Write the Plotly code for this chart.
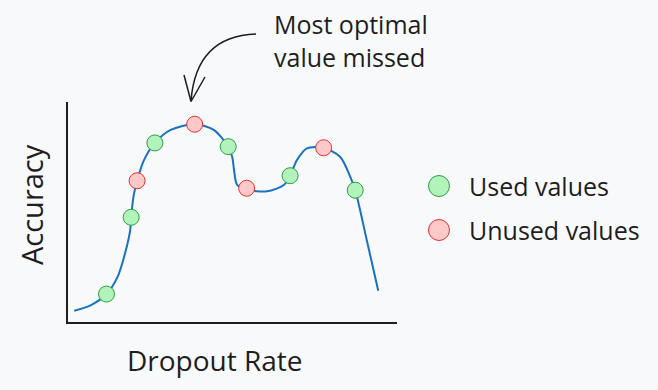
import plotly.graph_objects as go

# ---- data (arbitrary units: dropout rate 0-100, accuracy 0-100) ----
curve_x = [1.9, 7.0, 11.7, 15.1, 17.6, 18.9, 19.2, 19.9, 21.0, 23.1, 26.4, 31.2, 38.5, 44.3,
           48.7, 49.9, 50.6, 51.4, 54.3, 60.5, 65.6, 67.5, 69.6, 72.6, 77.7, 82.7, 85.8, 87.3,
           90.8, 94.3]
curve_y = [5.1, 7.7, 12.7, 20.6, 32.7, 41.8, 47.6, 57.0, 64.2, 73.6, 81.4, 87.3, 89.9, 87.3,
           79.7, 75.1, 67.6, 62.3, 60.2, 59.4, 62.3, 66.5, 73.6, 78.9, 79.2, 75.1, 66.0, 60.0,
           37.3, 14.2]

used_x = [11.7, 19.2, 26.4, 48.7, 67.5, 87.3]
used_y = [12.7, 47.6, 81.4, 79.7, 66.5, 59.9]
unused_x = [21.0, 38.5, 54.3, 77.7]
unused_y = [64.2, 89.9, 60.8, 79.2]

legend_labels = ["Used values", "Unused values"]
x_title = "Dropout Rate"
y_title = "Accuracy"
note_text = "Most optimal<br>value missed"

# ---- layout geometry ----
W, H = 658, 390
L, R, T, B = 68, 261, 102, 68
PW, PH = W - L - R, H - T - B


def px(x):
    return (x - L) / PW


def py(y):
    return (H - B - y) / PH


BG = "#f8f9fa"
INK = "#1e1e1e"
BLUE = "#1971c2"
G_FILL, G_LINE = "#b2f2bb", "#2f9e44"
R_FILL, R_LINE = "#ffc9c9", "#e03131"
FONT = "Open Sans"

fig = go.Figure()
fig.add_trace(go.Scatter(x=curve_x, y=curve_y, mode="lines",
                         line=dict(color=BLUE, width=2, shape="spline", smoothing=0.8),
                         hoverinfo="skip", showlegend=False))
fig.add_trace(go.Scatter(x=used_x, y=used_y, mode="markers", name=legend_labels[0],
                         marker=dict(size=16, color=G_FILL, line=dict(color=G_LINE, width=1)),
                         showlegend=False))
fig.add_trace(go.Scatter(x=unused_x, y=unused_y, mode="markers", name=legend_labels[1],
                         marker=dict(size=16, color=R_FILL, line=dict(color=R_LINE, width=1)),
                         showlegend=False))

shapes = []
# arrow
shapes.append(dict(type="path", xref="paper", yref="paper",
                   path=f"M {px(256)},{py(34)} Q {px(196)},{py(36)} {px(191)},{py(101)}",
                   line=dict(color=INK, width=1.5)))
for hx, hy in [(184, 75), (205, 77)]:
    shapes.append(dict(type="line", xref="paper", yref="paper",
                       x0=px(191), y0=py(101.5), x1=px(hx), y1=py(hy),
                       line=dict(color=INK, width=1.5)))
# legend circles
legend_cols = [(G_FILL, G_LINE), (R_FILL, R_LINE)]
legend_y = [186, 230]
for (fc, lc), ly in zip(legend_cols, legend_y):
    shapes.append(dict(type="circle", xref="paper", yref="paper",
                       x0=px(428.5), x1=px(449.5), y0=py(ly - 10.5), y1=py(ly + 10.5),
                       fillcolor=fc, line=dict(color=lc, width=1)))

annotations = []
for lab, ly in zip(legend_labels, legend_y):
    annotations.append(dict(xref="paper", yref="paper", x=px(467), y=py(ly),
                            text=lab, showarrow=False, xanchor="left", yanchor="middle",
                            font=dict(family=FONT, size=25, color=INK)))
annotations.append(dict(xref="paper", yref="paper", x=px(272), y=py(40),
                        text=note_text, showarrow=False, xanchor="left", yanchor="middle",
                        align="left", font=dict(family=FONT, size=25, color=INK)))
annotations.append(dict(xref="paper", yref="paper", x=px(215), y=py(360),
                        text=x_title, showarrow=False, xanchor="center", yanchor="middle",
                        font=dict(family=FONT, size=28, color=INK)))
annotations.append(dict(xref="paper", yref="paper", x=px(31), y=py(205),
                        text=y_title, showarrow=False, xanchor="center", yanchor="middle",
                        textangle=-90, font=dict(family=FONT, size=29, color=INK)))

fig.update_layout(
    width=W, height=H,
    margin=dict(l=L, r=R, t=T, b=B),
    paper_bgcolor=BG, plot_bgcolor=BG,
    shapes=shapes, annotations=annotations,
    xaxis=dict(range=[0, 100], showgrid=False, zeroline=False, showticklabels=False,
               ticks="", showline=True, linecolor=INK, linewidth=1.5, fixedrange=True),
    yaxis=dict(range=[0, 100], showgrid=False, zeroline=False, showticklabels=False,
               ticks="", showline=True, linecolor=INK, linewidth=1.5, fixedrange=True),
    showlegend=False,
)

fig.write_html("out.html", config={"displayModeBar": False},
               post_script="document.body.style.margin='0';"
                           "document.body.style.background='" + BG + "';")
